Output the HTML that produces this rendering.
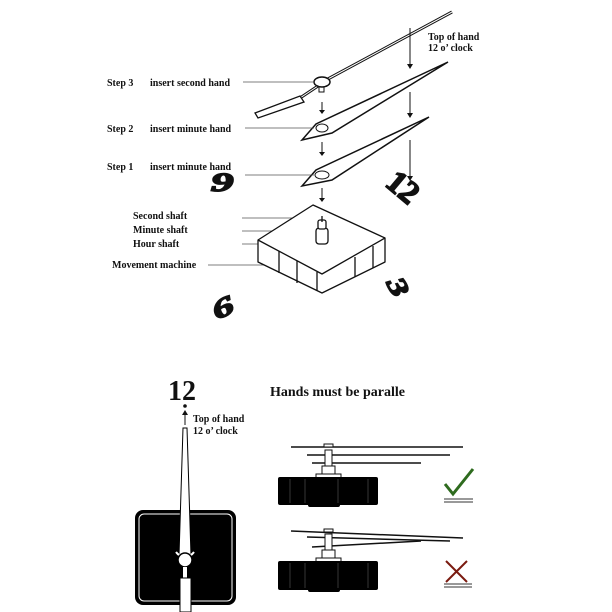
<!DOCTYPE html>
<html><head><style>
html,body{margin:0;padding:0;background:#fff;}
svg{display:block;}
text{font-family:"Liberation Serif",serif;font-weight:bold;fill:#111;}
.num{stroke:#111;stroke-width:1.6;font-style:italic;}
</style></head><body>
<svg width="612" height="612" viewBox="0 0 612 612" xmlns="http://www.w3.org/2000/svg">
<line x1="326" y1="80" x2="452" y2="12" stroke="#111" stroke-width="3"/>
<line x1="326" y1="80" x2="452" y2="12" stroke="#fff" stroke-width="1"/>
<line x1="300" y1="98" x2="318" y2="86" stroke="#111" stroke-width="3"/>
<line x1="300" y1="98" x2="318" y2="86" stroke="#fff" stroke-width="1"/>
<polygon points="255,113 300,96 304,102 258,118" fill="#fff" stroke="#111" stroke-width="1.3"/>
<rect x="319" y="84" width="5" height="8" fill="#fff" stroke="#111"/>
<ellipse cx="322" cy="82" rx="8" ry="5" fill="#fff" stroke="#111" stroke-width="1.5"/>
<polygon points="302,140 316,124 448,62 332,133" fill="#fff" stroke="#111" stroke-width="1.5"/>
<ellipse cx="322" cy="128" rx="6" ry="4" fill="#fff" stroke="#111"/>
<polygon points="302,186 316,170 429,117 332,180" fill="#fff" stroke="#111" stroke-width="1.5"/>
<ellipse cx="322" cy="175" rx="7" ry="4" fill="#fff" stroke="#111"/>
<g stroke="#111" stroke-width="1">
<line x1="410" y1="28" x2="410" y2="64"/><line x1="410" y1="92" x2="410" y2="113"/><line x1="410" y1="140" x2="410" y2="176"/>
<line x1="322" y1="102" x2="322" y2="110"/><line x1="322" y1="142" x2="322" y2="152"/><line x1="322" y1="188" x2="322" y2="198"/>
</g>
<g stroke="#555" stroke-width="0.8">
<line x1="243" y1="82" x2="314" y2="82"/><line x1="245" y1="128" x2="314" y2="128"/><line x1="245" y1="175" x2="314" y2="175"/>
<line x1="242" y1="218" x2="320" y2="218"/><line x1="242" y1="231" x2="318" y2="231"/><line x1="242" y1="244" x2="318" y2="244"/><line x1="208" y1="265" x2="280" y2="265"/>
</g>
<g fill="#111">
<polygon points="407,64 413,64 410,69"/><polygon points="407,113 413,113 410,118"/><polygon points="407,176 413,176 410,181"/>
<polygon points="319,110 325,110 322,114"/><polygon points="319,152 325,152 322,156"/><polygon points="319,198 325,198 322,202"/>
</g>
<text x="428" y="40" font-size="10">Top of hand</text>
<text x="428" y="51" font-size="10">12 o’ clock</text>
<text x="107" y="86" font-size="10">Step 3</text><text x="150" y="86" font-size="10">insert second hand</text>
<text x="107" y="132" font-size="10">Step 2</text><text x="150" y="132" font-size="10">insert minute hand</text>
<text x="107" y="170" font-size="10">Step 1</text><text x="150" y="170" font-size="10">insert minute hand</text>
<text x="133" y="219" font-size="10">Second shaft</text>
<text x="133" y="233" font-size="10">Minute shaft</text>
<text x="133" y="247" font-size="10">Hour shaft</text>
<text x="112" y="268" font-size="10">Movement machine</text>
<text class="num" transform="translate(211,191) scale(1.6,0.95)" font-size="28">9</text>
<text class="num" transform="translate(384,185) rotate(40)" font-size="32" style="font-style:normal">12</text>
<text class="num" transform="translate(217,320) rotate(-25) scale(1.5,0.95)" font-size="28">6</text>
<text class="num" transform="translate(386,283) rotate(62) scale(1.3,0.95)" font-size="28">3</text>
<g fill="#fff" stroke="#111" stroke-width="1.3" stroke-linejoin="round">
<path d="M258,240 L313,205 L385,238 L385,262 L322,293 L258,262 Z"/>
<path d="M258,240 L322,274 L385,238" fill="none"/>
<line x1="279" y1="251" x2="279" y2="273"/><line x1="297" y1="261" x2="297" y2="283"/><line x1="317" y1="272" x2="317" y2="291"/><line x1="355" y1="257" x2="355" y2="277"/><line x1="373" y1="246" x2="373" y2="268"/>
<rect x="316" y="228" width="12" height="16" rx="3"/>
<rect x="318" y="220" width="8" height="9" rx="2"/>
<line x1="322" y1="216" x2="322" y2="222"/>
</g>
<text x="168" y="400" font-size="28">12</text>
<circle cx="185" cy="406" r="1.8" fill="#111"/>
<line x1="185" y1="425" x2="185" y2="414" stroke="#111"/><polygon points="182,415 188,415 185,410" fill="#111"/>
<text x="193" y="422" font-size="10">Top of hand</text>
<text x="193" y="434" font-size="10">12 o’ clock</text>
<rect x="135" y="510" width="101" height="95" rx="8" fill="#000"/>
<rect x="139" y="514" width="93" height="87" rx="5" fill="none" stroke="#fff" stroke-width="1"/>
<polygon points="183,428 187,428 191,556 179,556" fill="#fff" stroke="#000" stroke-width="1"/>
<path d="M176,552 A11,11 0 0 0 194,552" fill="none" stroke="#fff" stroke-width="2"/>
<circle cx="185" cy="560" r="7" fill="#fff" stroke="#000" stroke-width="1.5"/>
<rect x="183" y="567" width="4" height="12" fill="#fff"/>
<rect x="180" y="578" width="11" height="34" fill="#fff" stroke="#000"/>
<text x="270" y="396" font-size="14">Hands must be paralle</text>
<g stroke="#111" stroke-width="1.5">
<line x1="291" y1="447" x2="463" y2="447"/><line x1="307" y1="455" x2="450" y2="455"/><line x1="312" y1="463" x2="421" y2="463"/>
<line x1="291" y1="531" x2="463" y2="538"/><line x1="307" y1="537" x2="450" y2="541"/><line x1="312" y1="547" x2="421" y2="541"/>
</g>
<g fill="#fff" stroke="#111">
<rect x="324" y="444" width="9" height="3"/><rect x="325" y="450" width="7" height="16"/><rect x="322" y="466" width="13" height="8"/><rect x="316" y="474" width="25" height="4"/>
<rect x="324" y="529" width="9" height="3"/><rect x="325" y="534" width="7" height="16"/><rect x="322" y="550" width="13" height="8"/><rect x="316" y="558" width="25" height="4"/>
</g>
<rect x="278" y="477" width="100" height="28" rx="2" fill="#000"/><rect x="308" y="500" width="32" height="7" rx="2" fill="#000"/>
<rect x="278" y="561" width="100" height="29" rx="2" fill="#000"/><rect x="308" y="585" width="32" height="7" rx="2" fill="#000"/>
<g stroke="#444" stroke-width="0.8"><line x1="290" y1="479" x2="290" y2="503"/><line x1="305" y1="479" x2="305" y2="503"/><line x1="338" y1="479" x2="338" y2="503"/><line x1="368" y1="479" x2="368" y2="503"/>
<line x1="290" y1="563" x2="290" y2="588"/><line x1="305" y1="563" x2="305" y2="588"/><line x1="338" y1="563" x2="338" y2="588"/><line x1="368" y1="563" x2="368" y2="588"/></g>
<path d="M445,484 L453,494 L473,469" fill="none" stroke="#2e6b1e" stroke-width="3"/>
<line x1="444" y1="499" x2="473" y2="499" stroke="#333"/><line x1="444" y1="502" x2="473" y2="502" stroke="#333"/>
<path d="M446,561 L467,582 M467,561 L446,582" stroke="#7a1a10" stroke-width="2"/>
<line x1="444" y1="584" x2="472" y2="584" stroke="#333"/><line x1="444" y1="587" x2="472" y2="587" stroke="#333"/>
</svg>
</body></html>
